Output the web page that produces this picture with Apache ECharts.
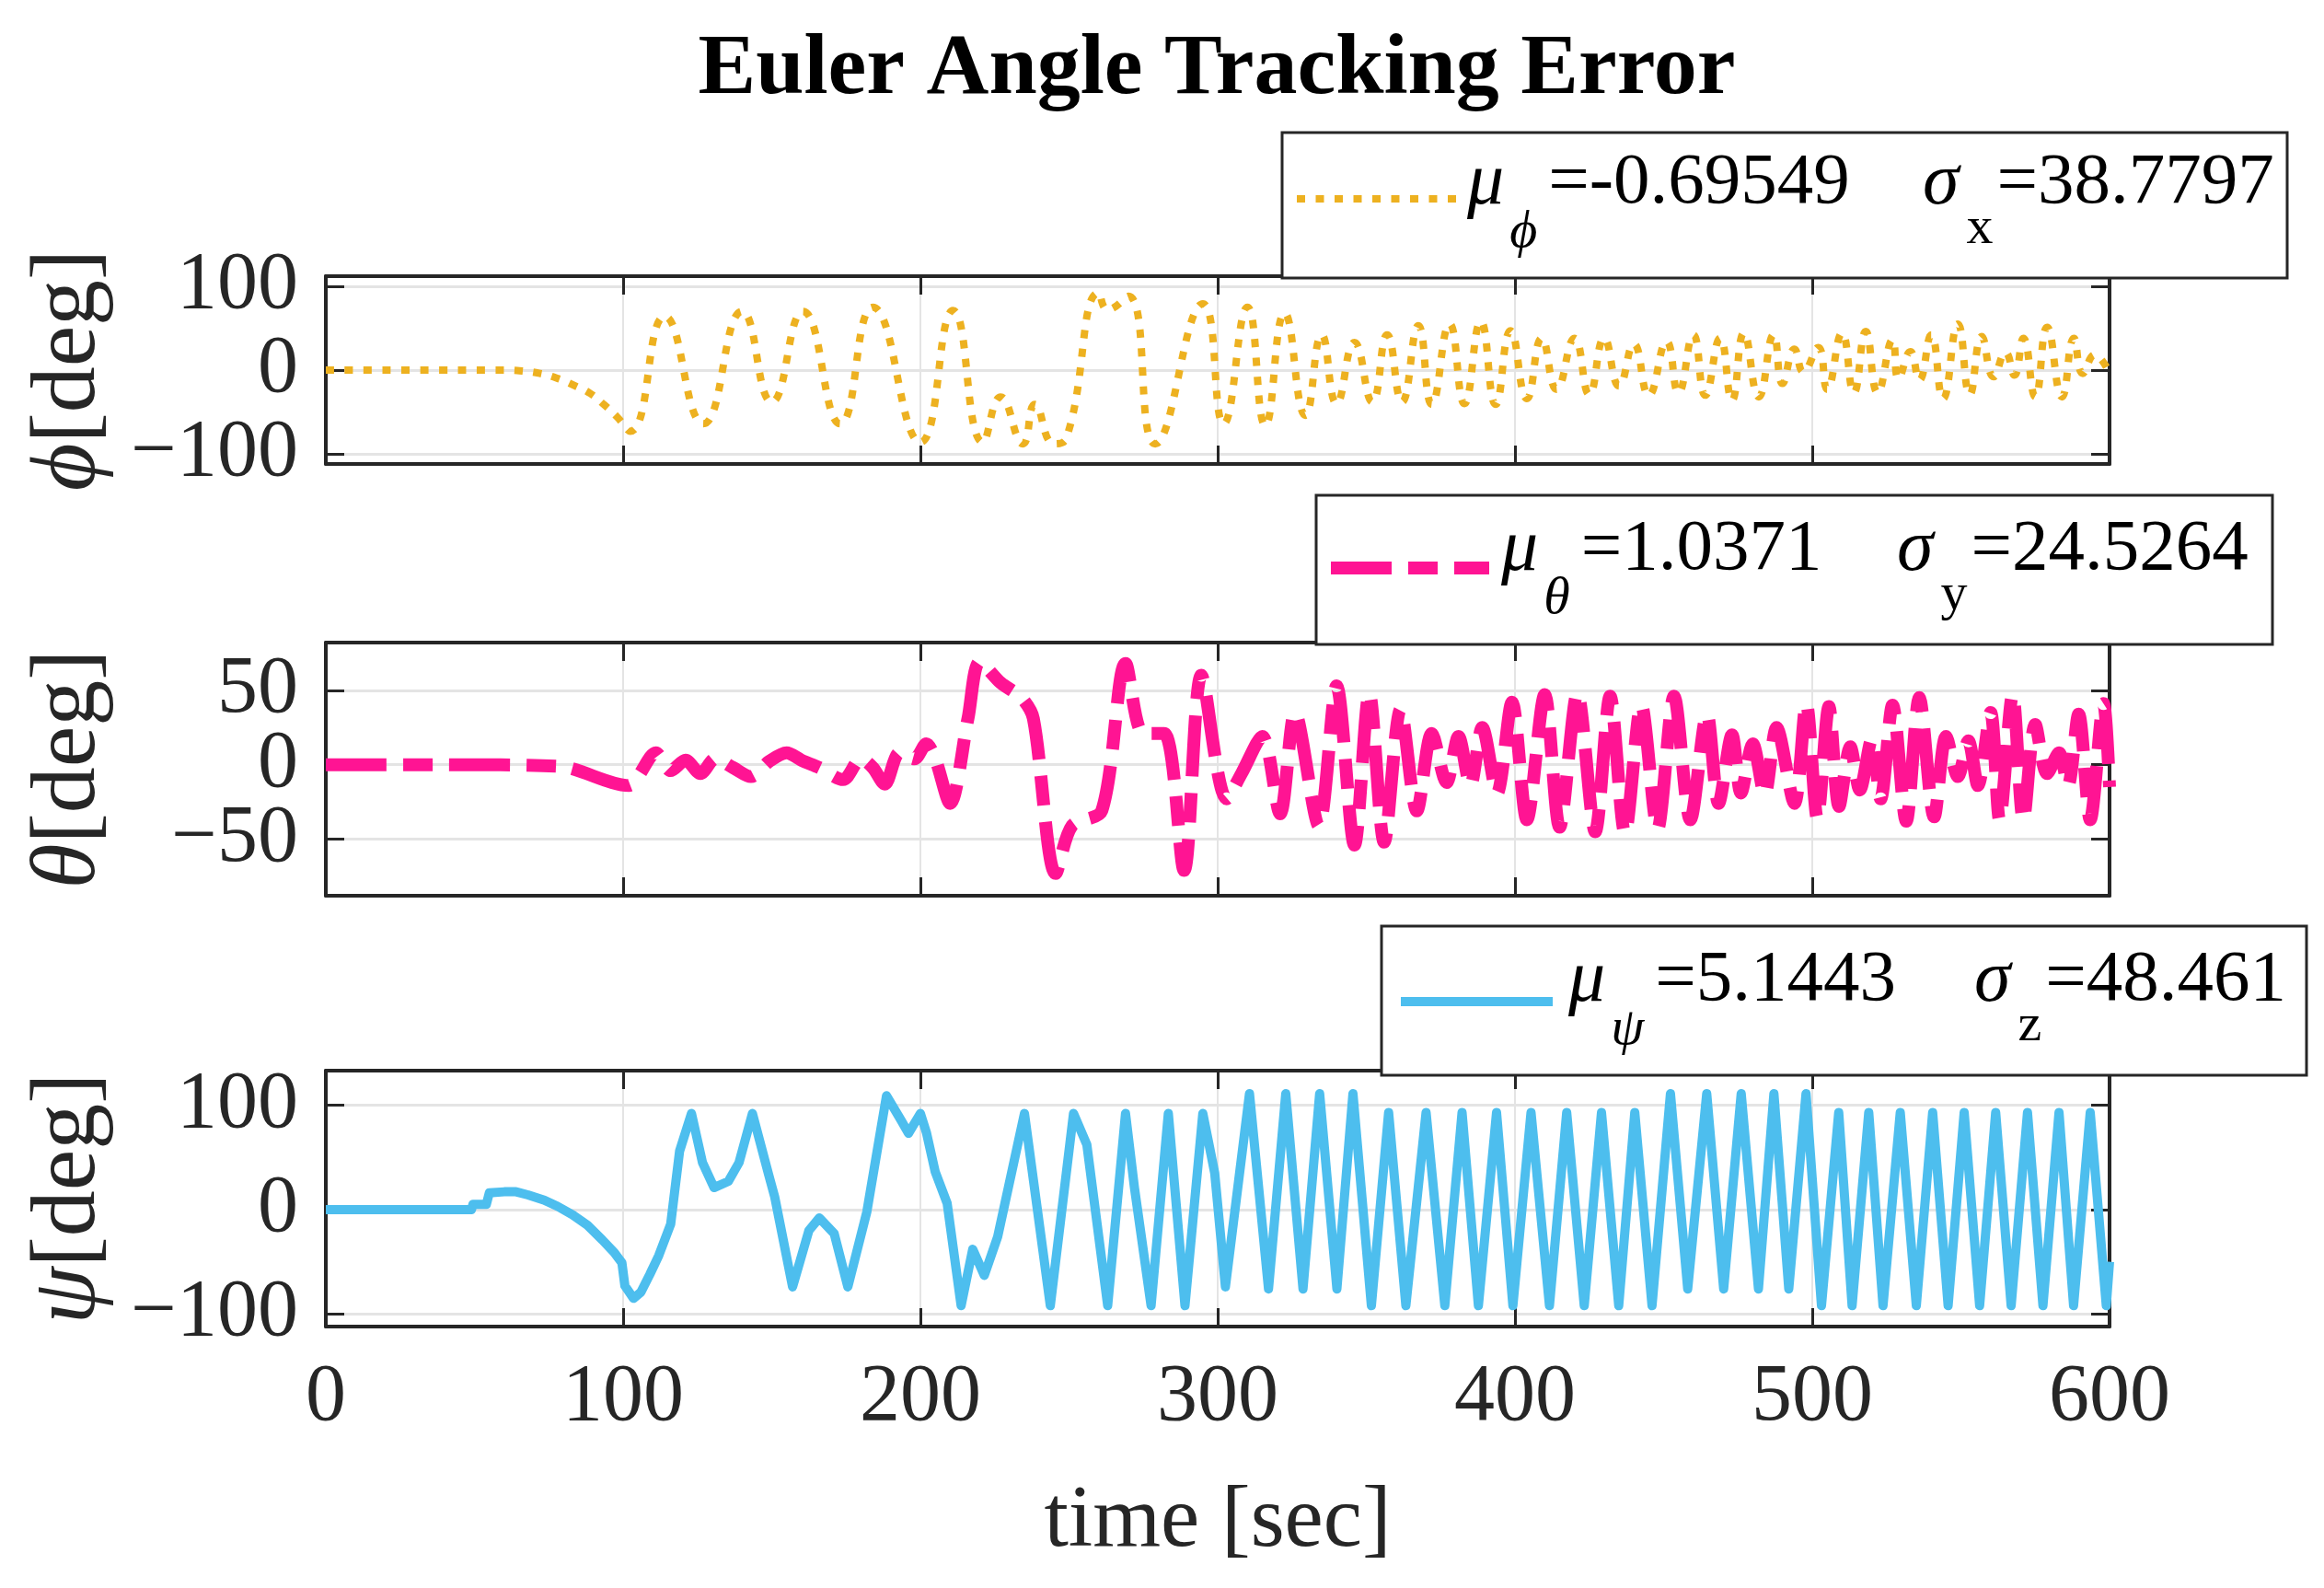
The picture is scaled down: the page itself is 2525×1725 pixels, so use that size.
<!DOCTYPE html>
<html><head><meta charset="utf-8">
<script src="https://cdn.jsdelivr.net/npm/echarts@6/dist/echarts.min.js"></script>
<style>html,body{margin:0;padding:0;background:#fff}#c{width:2525px;height:1725px}</style>
</head><body><div id="c"></div><script>
// ---------- data ----------
const phiTime = [0,30,60,66,72,78,84,89,93.5,98,102.4,114,127,140,150,160.5,173,184,200,211,221,227,234.5,238.5,245,249,260,263,270,279,295,302,310,316,322.5,329.5,335,340,346,352,357,362,367.5,372,378,383,388.5,393.5,398.5,404,409,414,420,425,430,435,440,445,451,455,460,464,469,473,477,482,487,490,494,497,502,505,510,514,518,522,527,529,533,536,540,544,549,553,557,561,565,568,571,575,579,584,588,591,595,600];
const phiDeg  = [0,0,0,-1,-4,-10,-19,-28,-41,-56,-73,64,-64,70,-38,70,-64,75,-86,71,-86,-32,-88,-41,-88,-82,92,72,88,-88,79,-64,75,-66,68,-54,42,-40,33,-38,42,-38,53,-41,55,-40,58,-41,47,-34,38,-23,38,-29,38,-19,31,-30,34,-27,42,-30,38,-36,44,-32,42,-16,25,-2,27,-23,44,-27,46,-27,36,-10,22,-12,42,-34,55,-29,40,-8,21,-6,38,-32,51,-32,38,-4,18,-4];

const thetaTime = [0,40,78,102,105,111,116,121,126,131,137,143,149,155,160,166,174,180,184,188,193,198,202,205,210,216,220,227,234,238,245.5,251,261,269,275,282,288.7,294.5,303,308,315,321,326,334,340,346,351,356,361.5,367,372,377,381,385,389,394,399,404,410,415,421,427,432,437,442.5,448,453.5,459,464.6,468.5,473,476,480,484,488,494,498,501.7,505.6,509,512.8,516,520,523,527,531.6,536,541,545,549,552.5,555.7,560,563,567.4,571,575,579,583,586,589.6,593.5,598,600];
const thetaDeg  = [0,0,-1,-14,-8,8,-4,3,-6,4,-2,-8,2,8,3,-2,-10,4,-2,-13,8,4,14,4,-26,31,69,55,45,31,-73,-41,-31,68,21,21,-71,60,-23,-6,19,-33,35,-41,53,-54,48,-52,37,-31,21,-12,19,-14,25,-19,42,-37,47,-42,48,-45,46,-46,40,-43,46,-37,34,-26,20,-19,14,-20,25,-26,41,-36,39,-28,12,-17,17,-23,40,-38,45,-35,19,-8,16,-14,35,-37,47,-37,27,-6,8,-14,34,-37,41,-15];

const psiTime = [
  0,49,49.5,54,55,60,64,68,73.5,78,
  83,88,93,97,99.6,100.6,103.5,106,109,112,
  116,119,123,126.7,130.6,135.4,139,143.5,149,151,
  157,162.5,166,171,175.6,182,188.6,193.4,196,200,
  202,205,209,213.7,217.6,221.5,226,235,243.7,251.5,
  256,263,269,272,277.6,283.4,289,295,299,302.6,
  310.7,317.1,322.9,328.7,334.3,340.1,345.5,351.7,357.5,363.3,
  370.1,376.4,382.2,387.7,393.8,399.3,405.4,411.6,417.4,423.3,
  429.1,434.9,440.3,446.1,452.3,458.1,464.5,470.2,476.1,481.9,
  487.1,492.1,497.9,503.1,508.9,513.4,519,523.8,529.6,535,
  540.5,545.7,551.1,556.3,561.7,566.9,572.4,577.6,583,587.9,
  593.5,598.9,600];
const psiDeg = [
  0,0,5,5,16,17,17,14,9,3,
  -5,-15,-29,-41,-51,-73,-85,-79,-62,-44,
  -14,56,92,45,21,27,45,92,33,12,
  -74,-20,-8,-23,-74,-2,109,86,73,92,
  74,36,6,-92,-38,-63,-26,92,-92,92,
  62,-92,92,21,-92,92,-92,92,35,-74,
  111,-76,111,-76,111,-76,111,-92,93,-92,
  93,-92,93,-92,93,-92,93,-92,93,-92,
  93,-92,93,-92,111,-76,111,-76,111,-76,
  111,-76,111,-92,93,-92,93,-92,93,-92,
  93,-92,93,-92,93,-92,93,-92,93,-92,
  93,-92,-50];

const xTicks = [0,100,200,300,400,500,600];
const phiTicks = [-100,0,100];
const thetaTicks = [-50,0,50];
const psiTicks = [-100,0,100];
const yNames = ['{i|ϕ}[deg]','{i|θ}[deg]','{i|ψ}[deg]'];
const legendMu = [['μ','ϕ','=-0.69549'],['μ','θ','=1.0371'],['μ','ψ','=5.1443']];
const legendSigma = [['σ','x','=38.7797'],['σ','y','=24.5264'],['σ','z','=48.461']];
const titleText = 'Euler Angle Tracking Error';
const xName = 'time [sec]';

// ---------- styles ----------
const FF = "'Liberation Serif','DejaVu Serif',serif";
const AX = '#262626';
const GRIDC = '#e4e4e4';
const colors = ['#EDB120','#FF1493','#4DBEEE'];
const widths = [8,14,10];
const dashes = [[9,11.5],[66,18,32,18],'solid'];

const grids = [
  {left:354, width:1938, top:300, height:204},
  {left:354, width:1938, top:698, height:275},
  {left:354, width:1938, top:1163, height:278}
];
const yRanges = [[-112,112],[-88,82],[-112,133]];
const yTickSets = [phiTicks, thetaTicks, psiTicks];

const fmt = v => (v < 0 ? '\u2212' + Math.abs(v) : String(v));
const labelStyle = {margin:30,fontSize:88,fontFamily:FF,color:AX,hideOverlap:false,showMinLabel:true,showMaxLabel:true,formatter:fmt};

const xAxes = [], yAxes = [];
for (let i = 0; i < 3; i++) {
  const last = i === 2;
  xAxes.push({
    type:'value', gridIndex:i, min:xTicks[0], max:xTicks[xTicks.length-1], interval:100, position:'bottom',
    axisLine:{show:true,onZero:false,lineStyle:{color:AX,width:4}},
    axisTick:{show:true,inside:true,length:20,lineStyle:{color:AX,width:3}},
    axisLabel:{show:last,margin:34,fontSize:88,fontFamily:FF,color:AX},
    splitLine:{show:true,lineStyle:{color:GRIDC,width:2}},
    name: last ? xName : '', nameLocation:'middle', nameGap:166,
    nameTextStyle:{fontSize:95,fontFamily:FF,color:AX}
  });
}
for (let i = 0; i < 3; i++) {
  xAxes.push({
    type:'value', gridIndex:i, min:0, max:600, interval:100, position:'top',
    axisLine:{show:true,onZero:false,lineStyle:{color:AX,width:4}},
    axisTick:{show:true,inside:true,length:20,lineStyle:{color:AX,width:3}},
    axisLabel:{show:false}, splitLine:{show:false}
  });
}
// primary left axes: line, ticks, grid, name, labels except the middle one
for (let i = 0; i < 3; i++) {
  const ticks = yTickSets[i];
  yAxes.push({
    type:'value', gridIndex:i, min:yRanges[i][0], max:yRanges[i][1], position:'left',
    axisLine:{show:true,onZero:false,lineStyle:{color:AX,width:4}},
    axisTick:{show:true,inside:true,length:20,customValues:ticks,lineStyle:{color:AX,width:3}},
    axisLabel:Object.assign({show:true,customValues:ticks.filter(v => v !== 0)}, labelStyle),
    splitLine:{show:true,lineStyle:{color:GRIDC,width:3}},
    name:yNames[i], nameLocation:'middle', nameGap:228,
    nameTextStyle:{fontSize:100,fontFamily:FF,color:AX,rich:{i:{fontStyle:'italic',fontSize:100,fontFamily:FF,color:AX}}}
  });
}
// right axes (box)
for (let i = 0; i < 3; i++) {
  yAxes.push({
    type:'value', gridIndex:i, min:yRanges[i][0], max:yRanges[i][1], position:'right',
    axisLine:{show:true,onZero:false,lineStyle:{color:AX,width:4}},
    axisTick:{show:true,inside:true,length:20,customValues:yTickSets[i],lineStyle:{color:AX,width:3}},
    axisLabel:{show:false}, splitLine:{show:false}
  });
}
// label-only left axes for the zero label
for (let i = 0; i < 3; i++) {
  yAxes.push({
    type:'value', gridIndex:i, min:yRanges[i][0], max:yRanges[i][1], position:'left',
    axisLine:{show:false,onZero:false}, axisTick:{show:false}, splitLine:{show:false},
    axisLabel:Object.assign({show:true,customValues:yTickSets[i].filter(v => v === 0)}, labelStyle)
  });
}

const zip = (a,b) => a.map((t,k) => [t, b[k]]);
const seriesData = [zip(phiTime,phiDeg), zip(thetaTime,thetaDeg), zip(psiTime,psiDeg)];
const smooths = [0.5, 0.3, false];
const series = seriesData.map((d,i) => ({
  type:'line', xAxisIndex:i, yAxisIndex:i, data:d, showSymbol:false, smooth:smooths[i],
  lineStyle:{color:colors[i], width:widths[i], type:dashes[i], cap:'butt', join:'round'},
  clip:true, z:3
}));

// legend boxes
const boxes = [
  {x:1393,y:144,w:1092,h:158, lx1:1409,lx2:1586,ly:216, mx:1594, sx:2089, cy:200},
  {x:1430,y:538,w:1039,h:162, lx1:1446,lx2:1618,ly:617, mx:1631, sx:2061, cy:598},
  {x:1501,y:1006,w:1005,h:162, lx1:1522,lx2:1687,ly:1088, mx:1704, sx:2145, cy:1066}
];
const rich = {
  m:{fontStyle:'italic',fontSize:80,lineHeight:80,fontFamily:FF,color:'#000',verticalAlign:'top'},
  s:{fontStyle:'italic',fontSize:58,lineHeight:58,fontFamily:FF,color:'#000',verticalAlign:'top',padding:[64,12,0,6]},
  r:{fontSize:58,lineHeight:58,fontFamily:FF,color:'#000',verticalAlign:'top',padding:[60,4,0,8]},
  t:{fontSize:79,lineHeight:80,fontFamily:FF,color:'#000',verticalAlign:'top'}
};
const graphics = [{
  type:'text', x:1322, y:77, z:200,
  style:{text:titleText, fontSize:94, fontWeight:'bold', fontFamily:FF, fill:'#000', align:'center', verticalAlign:'middle'}
}];
boxes.forEach((b,i) => {
  graphics.push({type:'rect', z:150, shape:{x:b.x,y:b.y,width:b.w,height:b.h}, style:{fill:'#fff',stroke:AX,lineWidth:3}});
  const ls = {stroke:colors[i], lineWidth:widths[i], lineCap:'butt'};
  if (Array.isArray(dashes[i])) ls.lineDash = dashes[i];
  graphics.push({type:'line', z:151, shape:{x1:b.lx1,y1:b.ly,x2:b.lx2,y2:b.ly}, style:ls});
  const mu = legendMu[i], sg = legendSigma[i];
  graphics.push({type:'text', z:152, x:b.mx, y:b.cy-40,
    style:{text:'{m|'+mu[0]+'}{s|'+mu[1]+'}{t|'+mu[2]+'}', rich:rich, align:'left', verticalAlign:'top'}});
  graphics.push({type:'text', z:152, x:b.sx, y:b.cy-40,
    style:{text:'{m|'+sg[0]+'}{r|'+sg[1]+'}{t|'+sg[2]+'}', rich:rich, align:'left', verticalAlign:'top'}});
});

const chart = echarts.init(document.getElementById('c'), null, {renderer:'canvas', width:2525, height:1725});
chart.setOption({
  backgroundColor:'#fff',
  animation:false,
  grid:grids,
  xAxis:xAxes,
  yAxis:yAxes,
  series:series,
  graphic:{elements:graphics}
});
</script></body></html>
